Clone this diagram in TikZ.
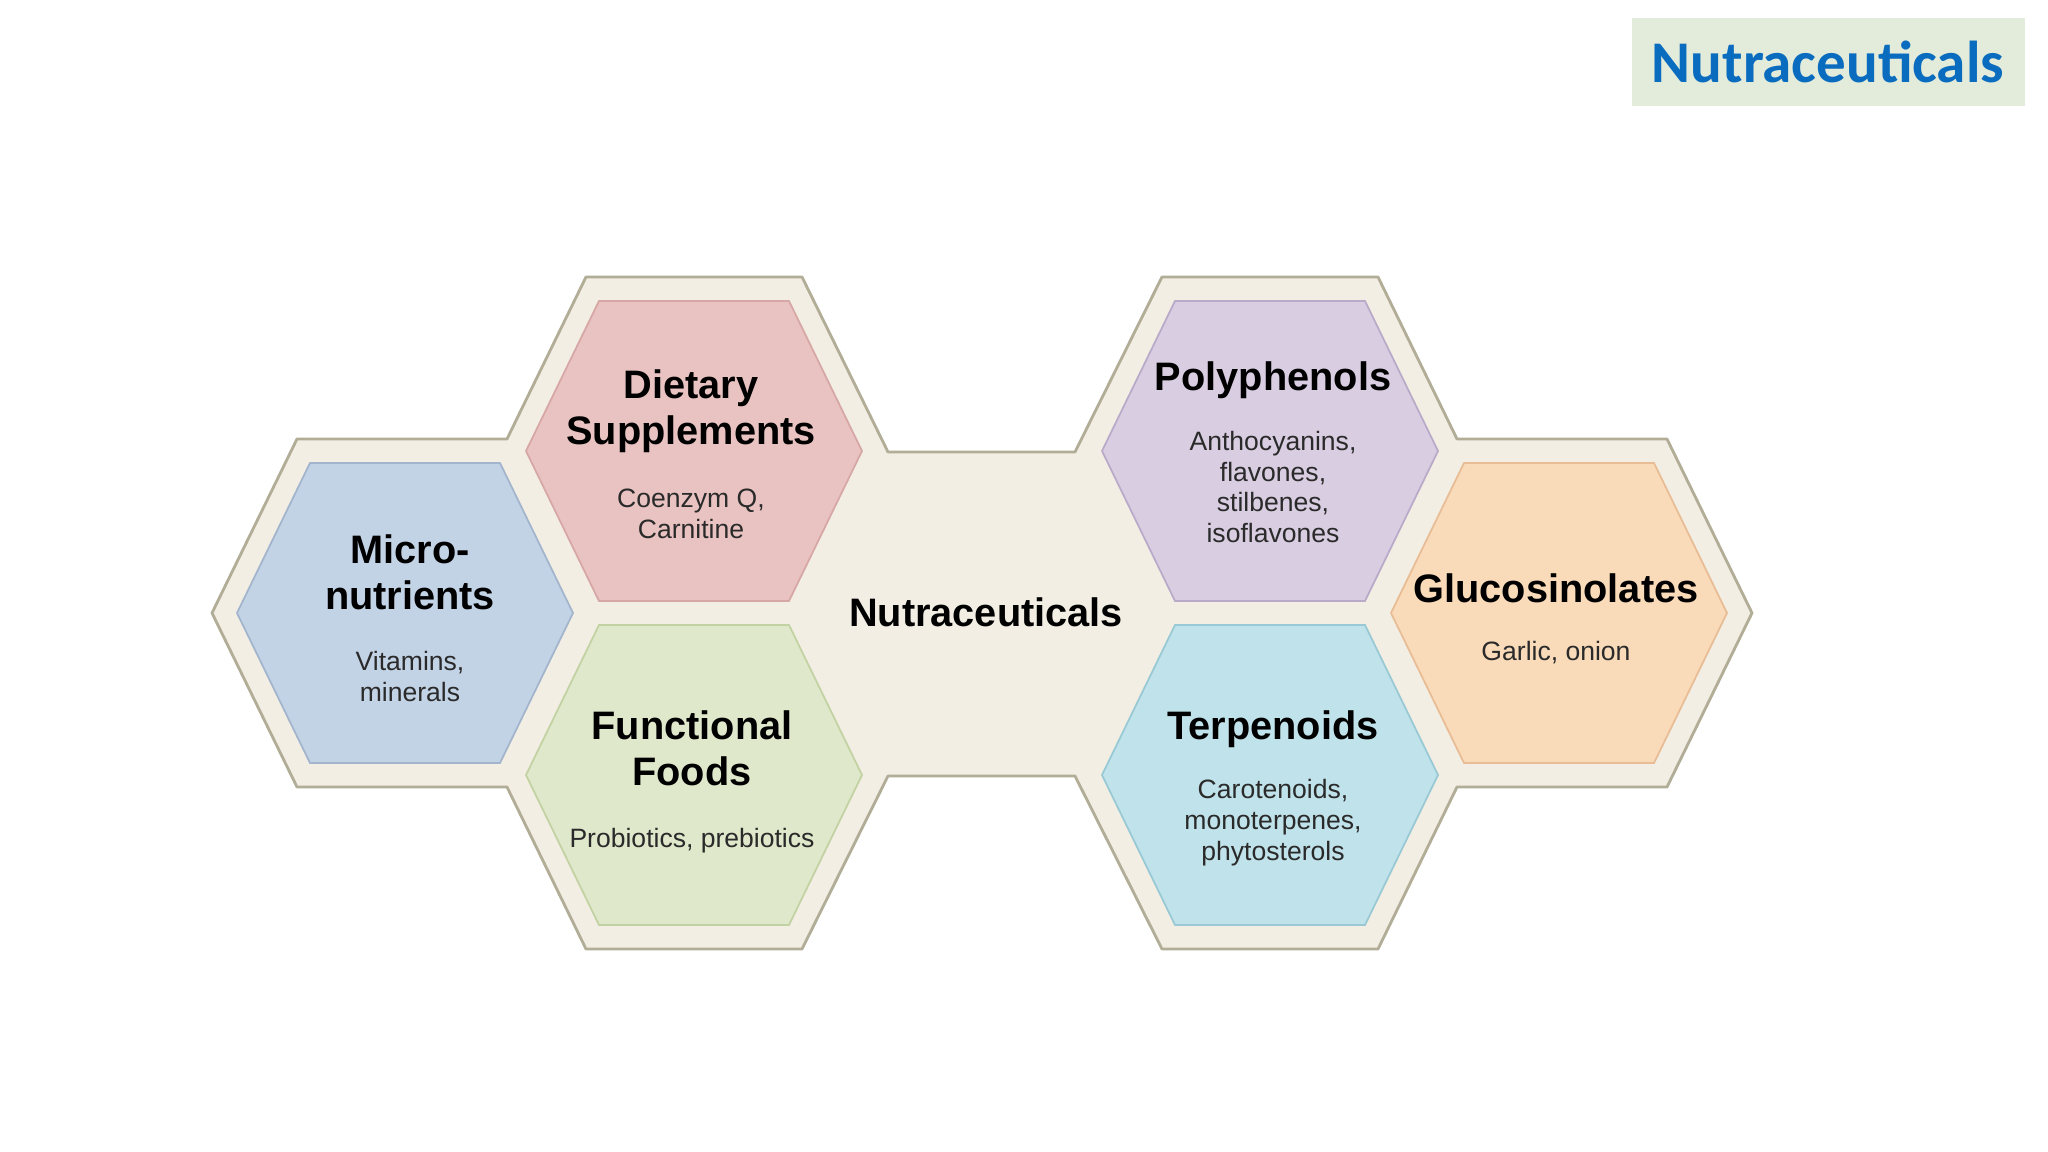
\documentclass[tikz,border=0pt]{standalone}
\usepackage{fontspec}
\setmainfont{Liberation Sans}
\newfontfamily\calib{Carlito}
\definecolor{beige}{HTML}{F2EEE3}
\definecolor{outl}{HTML}{B2AD97}
\definecolor{pinkf}{HTML}{E9C3C1}\definecolor{pinkd}{HTML}{D6A7A5}
\definecolor{greenf}{HTML}{DFE8CB}\definecolor{greend}{HTML}{C2D2A3}
\definecolor{bluef}{HTML}{C3D3E6}\definecolor{blued}{HTML}{A2B5CD}
\definecolor{purplef}{HTML}{D9CDE1}\definecolor{purpled}{HTML}{BAAAC9}
\definecolor{cyanf}{HTML}{C0E2EA}\definecolor{cyand}{HTML}{99C9D5}
\definecolor{orangef}{HTML}{F9DAB9}\definecolor{oranged}{HTML}{E8BD96}
\definecolor{boxf}{HTML}{E3ECDA}
\definecolor{titleblue}{HTML}{0A6CBF}
\definecolor{subtxt}{HTML}{2A2A2A}
\newcommand{\myhex}[5]{({#1-#3},#2) -- ({#1-#4},{#2-#5}) -- ({#1+#4},{#2-#5}) -- ({#1+#3},#2) -- ({#1+#4},{#2+#5}) -- ({#1-#4},{#2+#5}) -- cycle}
\tikzset{
  titletxt/.style={align=center, text=black, font=\fontsize{11.3}{13.2}\selectfont\bfseries, inner sep=0pt},
  subtext/.style={align=center, text=subtxt, font=\fontsize{7.55}{8.8}\selectfont, inner sep=0pt},
  innerhex/.style={line width=0.5pt},
  backplate/.style={fill=beige, draw=outl, line width=0.8pt, line join=round}
}
\begin{document}
\begin{tikzpicture}[x=0.01cm, y=-0.01cm]
\useasboundingbox (0,0) rectangle (2048,1152);
\fill[white] (0,0) rectangle (2048,1152);
% union outline of the seven outer hexagons
\filldraw[backplate] (212,613) -- (297,439) -- (507,439) -- (586,277) -- (802,277) -- (888,452) -- (1075,452) -- (1162,277) -- (1378,277) -- (1457,439) -- (1667,439) -- (1752,613) -- (1667,787) -- (1457,787) -- (1378,949) -- (1162,949) -- (1075,776) -- (888,776) -- (802,949) -- (586,949) -- (507,787) -- (297,787) -- cycle;
% inner hexes
\filldraw[innerhex, fill=bluef, draw=blued] \myhex{405}{613}{168}{95}{150};
\filldraw[innerhex, fill=pinkf, draw=pinkd] \myhex{694}{451}{168}{95}{150};
\filldraw[innerhex, fill=greenf, draw=greend] \myhex{694}{775}{168}{95}{150};
\filldraw[innerhex, fill=purplef, draw=purpled] \myhex{1270}{451}{168}{95}{150};
\filldraw[innerhex, fill=cyanf, draw=cyand] \myhex{1270}{775}{168}{95}{150};
\filldraw[innerhex, fill=orangef, draw=oranged] \myhex{1559}{613}{168}{95}{150};
% texts
\node[titletxt] (dst) at (691,411.5) {Dietary\\Supplements};
\node[subtext] (dss) at (691,514) {Coenzym Q,\\Carnitine};
\node[titletxt] (mnt) at (410,572.5) {Micro-\\nutrients};
\node[subtext] (mns) at (410,676.5) {Vitamins,\\minerals};
\node[titletxt] (fft) at (692,748.5) {Functional\\Foods};
\node[subtext] (ffs) at (692,841) {Probiotics, prebiotics};
\node[titletxt] (nut) at (986,612) {Nutraceuticals};
\node[titletxt] (ppt) at (1273,380) {Polyphenols};
\node[subtext] (pps) at (1273,487) {Anthocyanins,\\flavones,\\stilbenes,\\isoflavones};
\node[titletxt] (glt) at (1556,588) {Glucosinolates};
\node[subtext] (gls) at (1556,653) {Garlic, onion};
\node[titletxt] (tpt) at (1273,729) {Terpenoids};
\node[subtext] (tps) at (1273,823) {Carotenoids,\\monoterpenes,\\phytosterols};
% title box
\fill[boxf] (1632,18) rectangle (2025,106);
\node[text=titleblue, font=\calib\fontsize{16.8}{20}\selectfont\bfseries, inner sep=0pt] (hdr) at (1828,62) {Nutraceuticals};
\end{tikzpicture}
\end{document}
